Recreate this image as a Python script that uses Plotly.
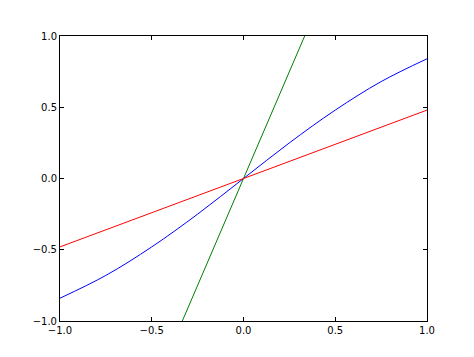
import plotly.graph_objects as go

# Values
blue_x = [-1.0, -0.75, -0.5, -0.25, 0.0, 0.25, 0.5, 0.75, 1.0]
blue_y = [-0.84, -0.68, -0.48, -0.25, 0.0, 0.25, 0.48, 0.68, 0.84]
green_x = [-0.34, 0.0, 0.34]
green_y = [-1.02, 0.0, 1.02]
red_x = [-1.0, 0.0, 1.0]
red_y = [-0.48, 0.0, 0.48]

tick_vals = [-1.0, -0.5, 0.0, 0.5, 1.0]
tick_text = ["\u22121.0", "\u22120.5", "0.0", "0.5", "1.0"]

fig = go.Figure()
fig.add_trace(go.Scatter(x=blue_x, y=blue_y, mode="lines",
                         line=dict(color="#0000ff", width=1, shape="spline"),
                         showlegend=False))
fig.add_trace(go.Scatter(x=green_x, y=green_y, mode="lines",
                         line=dict(color="#008000", width=1),
                         showlegend=False))
fig.add_trace(go.Scatter(x=red_x, y=red_y, mode="lines",
                         line=dict(color="#ff0000", width=1),
                         showlegend=False))

axis_common = dict(
    tickvals=tick_vals, ticktext=tick_text,
    ticks="inside", ticklen=4, tickwidth=1, tickcolor="black",
    showline=True, linecolor="black", linewidth=1, mirror="allticks",
    showgrid=False, zeroline=False,
    tickfont=dict(family="DejaVu Sans", size=10, color="black"),
)

fig.update_xaxes(range=[-1, 1], **axis_common)
fig.update_yaxes(range=[-1, 1], **axis_common)

fig.update_layout(
    width=474, height=357,
    margin=dict(l=60, r=47, t=36, b=36),
    paper_bgcolor="white", plot_bgcolor="white",
)

fig.write_html("out.html")
